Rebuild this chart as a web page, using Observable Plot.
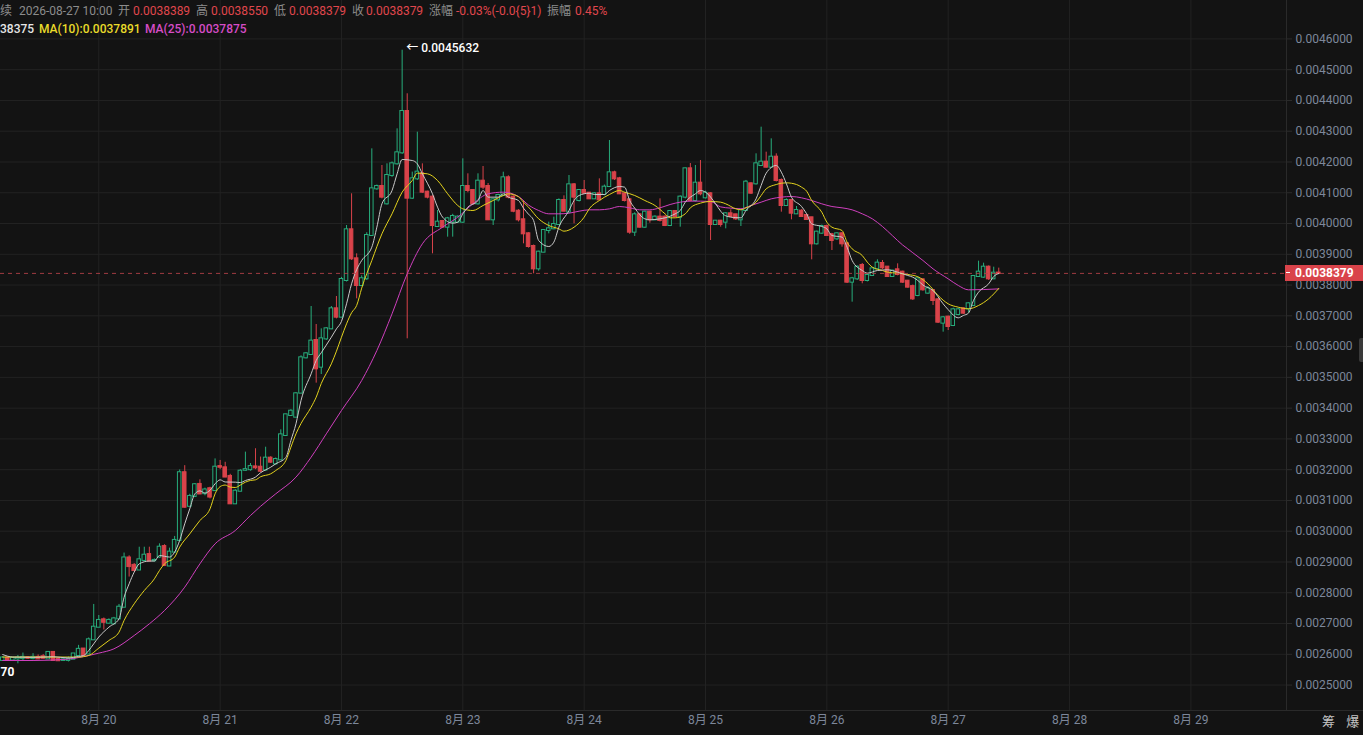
<!DOCTYPE html>
<html><head><meta charset="utf-8">
<script src="https://cdn.jsdelivr.net/npm/d3@7"></script>
<script src="https://cdn.jsdelivr.net/npm/@observablehq/plot@0.6"></script>
<style>
html,body{margin:0;padding:0;background:#131313;overflow:hidden;}
#wrap{position:relative;width:1363px;height:735px;font-family:Roboto,"Noto Sans CJK SC",sans-serif;}
.t{position:absolute;white-space:nowrap;font-size:12px;line-height:14px;}
.g{color:#8c8c8c}.r{color:#e0474d}
</style></head><body><div id="wrap"></div>
<script>
// Hourly candles, first one at 2026-08-19 05:00, last at 2026-08-27 10:00
const firstCandle = "2026-08-19T05:00:00Z";
const open = [
0.0025800,0.0025880,0.0025810,0.0025850,0.0025860,0.0025890,0.0025860,0.0025900,0.0025920,0.0025850,
0.0026060,0.0025830,0.0025800,0.0025800,0.0025840,0.0025960,0.0026170,0.0026010,0.0026470,0.0026880,
0.0027120,0.0027010,0.0026990,0.0027150,0.0027530,0.0029130,0.0028890,0.0028740,0.0029050,0.0029240,
0.0029040,0.0029160,0.0029500,0.0028870,0.0029320,0.0029700,0.0031900,0.0030810,0.0031130,0.0031520,
0.0031220,0.0031380,0.0031320,0.0032100,0.0032060,0.0031780,0.0030890,0.0031300,0.0031980,0.0032000,
0.0032090,0.0032080,0.0031990,0.0032374,0.0032190,0.0032320,0.0033110,0.0033760,0.0033706,0.0034487,
0.0035635,0.0035743,0.0036198,0.0035331,0.0036250,0.0036577,0.0037227,0.0036957,0.0038148,0.0039795,
0.0038852,0.0037986,0.0038205,0.0039611,0.0041127,0.0041203,0.0040640,0.0041561,0.0041940,0.0042297,
0.0043640,0.0040824,0.0041452,0.0041615,0.0041019,0.0040857,0.0039903,0.0040065,0.0039882,0.0040044,
0.0040044,0.0040044,0.0041203,0.0041073,0.0040640,0.0041376,0.0041203,0.0040120,0.0040770,0.0040910,
0.0041485,0.0040857,0.0040400,0.0040120,0.0039665,0.0039253,0.0038527,0.0039069,0.0039773,0.0039828,
0.0039968,0.0040748,0.0040370,0.0041257,0.0040748,0.0041073,0.0040986,0.0040802,0.0040965,0.0040943,
0.0041202,0.0041647,0.0041452,0.0040965,0.0040770,0.0039719,0.0040282,0.0039881,0.0040369,0.0040120,
0.0040207,0.0040207,0.0039935,0.0040391,0.0040206,0.0040857,0.0041777,0.0040748,0.0041311,0.0040835,
0.0040965,0.0039968,0.0040076,0.0040044,0.0040315,0.0040282,0.0040120,0.0040423,0.0041290,0.0041290,
0.0041885,0.0041994,0.0041831,0.0042156,0.0041398,0.0040586,0.0040748,0.0040315,0.0040401,0.0040261,
0.0040185,0.0039340,0.0039686,0.0039903,0.0039633,0.0039502,0.0039665,0.0039340,0.0038094,0.0038202,
0.0038636,0.0038148,0.0038311,0.0038527,0.0038700,0.0038582,0.0038279,0.0038495,0.0038419,0.0038126,
0.0037950,0.0037661,0.0038170,0.0037737,0.0037823,0.0037520,0.0036762,0.0036957,0.0036686,0.0037043,
0.0037227,0.0037227,0.0037336,0.0038278,0.0038257,0.0038581,0.0038202,0.0038389];
const high = [
0.0025920,0.0025900,0.0025900,0.0025960,0.0026040,0.0025920,0.0026020,0.0025980,0.0025990,0.0026070,
0.0026070,0.0025850,0.0025850,0.0025910,0.0026020,0.0026290,0.0026180,0.0026530,0.0027620,0.0027260,
0.0027180,0.0027150,0.0027200,0.0027620,0.0029290,0.0029200,0.0028950,0.0029480,0.0029480,0.0029480,
0.0029100,0.0029590,0.0029560,0.0029450,0.0029830,0.0031990,0.0032130,0.0031200,0.0031550,0.0031670,
0.0031400,0.0031430,0.0032350,0.0032300,0.0032240,0.0031850,0.0031350,0.0032000,0.0032570,0.0032200,
0.0032680,0.0032410,0.0032730,0.0032420,0.0032380,0.0033295,0.0033800,0.0033950,0.0034500,0.0035700,
0.0035800,0.0037303,0.0036718,0.0036577,0.0036620,0.0037303,0.0037628,0.0038250,0.0039936,0.0040965,
0.0039015,0.0038300,0.0039700,0.0042427,0.0041250,0.0041886,0.0041940,0.0042000,0.0043077,0.0045632,
0.0044216,0.0041670,0.0042969,0.0041940,0.0041050,0.0040900,0.0040423,0.0040100,0.0040200,0.0040300,
0.0040250,0.0042102,0.0041615,0.0041100,0.0041615,0.0041853,0.0041300,0.0040800,0.0040950,0.0041668,
0.0041550,0.0040900,0.0040450,0.0040748,0.0039700,0.0039300,0.0039100,0.0039800,0.0040044,0.0040207,
0.0040800,0.0040900,0.0041561,0.0041300,0.0041100,0.0041398,0.0041000,0.0041000,0.0041452,0.0041250,
0.0042698,0.0041700,0.0041500,0.0041000,0.0040800,0.0040350,0.0040320,0.0040400,0.0040400,0.0040250,
0.0040802,0.0040250,0.0040420,0.0040420,0.0040900,0.0041800,0.0041950,0.0041886,0.0042048,0.0041050,
0.0041000,0.0040100,0.0040100,0.0040350,0.0040445,0.0040300,0.0040450,0.0041400,0.0041320,0.0042265,
0.0043131,0.0042319,0.0042752,0.0042265,0.0041450,0.0040800,0.0040780,0.0040553,0.0040450,0.0040300,
0.0040200,0.0039750,0.0039950,0.0039950,0.0039680,0.0039700,0.0039700,0.0039380,0.0038250,0.0038620,
0.0038700,0.0038350,0.0038560,0.0038820,0.0038798,0.0038600,0.0038480,0.0038690,0.0038450,0.0038150,
0.0038000,0.0038250,0.0038200,0.0037950,0.0037850,0.0037550,0.0036980,0.0036990,0.0037250,0.0037250,
0.0037260,0.0037420,0.0038300,0.0038776,0.0038711,0.0038620,0.0038581,0.0038550];
const low = [
0.0025780,0.0025790,0.0025800,0.0025690,0.0025800,0.0025840,0.0025820,0.0025830,0.0025850,0.0025840,
0.0025790,0.0025780,0.0025790,0.0025750,0.0025830,0.0025950,0.0025950,0.0025990,0.0026460,0.0026870,
0.0026790,0.0026990,0.0026970,0.0027140,0.0027520,0.0028510,0.0028700,0.0028720,0.0029000,0.0029000,
0.0029000,0.0029120,0.0028850,0.0028850,0.0029300,0.0029680,0.0030750,0.0030780,0.0031100,0.0031200,
0.0031150,0.0031050,0.0031300,0.0032000,0.0031740,0.0030880,0.0030870,0.0031280,0.0031950,0.0031950,
0.0032000,0.0031900,0.0031950,0.0032200,0.0032150,0.0032300,0.0033090,0.0033740,0.0033690,0.0034470,
0.0035600,0.0035720,0.0034812,0.0035093,0.0036200,0.0036550,0.0036900,0.0036940,0.0038100,0.0038800,
0.0037552,0.0037950,0.0038150,0.0039580,0.0041080,0.0040800,0.0040600,0.0041500,0.0041900,0.0042250,
0.0036253,0.0040780,0.0041400,0.0040980,0.0040800,0.0039015,0.0039880,0.0039850,0.0039557,0.0039557,
0.0040000,0.0040000,0.0041000,0.0040600,0.0040600,0.0041100,0.0040098,0.0039936,0.0040700,0.0040880,
0.0040800,0.0040350,0.0040050,0.0039340,0.0039200,0.0038365,0.0038450,0.0039050,0.0039665,0.0039800,
0.0039950,0.0040380,0.0040350,0.0039990,0.0040700,0.0040950,0.0040780,0.0040780,0.0040750,0.0040900,
0.0041180,0.0041400,0.0040940,0.0040700,0.0039650,0.0039578,0.0039850,0.0039850,0.0040011,0.0040100,
0.0040050,0.0039900,0.0039900,0.0040200,0.0039881,0.0040800,0.0040700,0.0040700,0.0040900,0.0040800,
0.0039448,0.0039950,0.0039881,0.0039827,0.0040200,0.0040100,0.0039903,0.0040400,0.0040950,0.0041250,
0.0041850,0.0041800,0.0041800,0.0041350,0.0040369,0.0040550,0.0040120,0.0040300,0.0040200,0.0040100,
0.0038820,0.0039300,0.0039650,0.0039580,0.0039123,0.0039450,0.0039231,0.0038050,0.0037444,0.0038150,
0.0038040,0.0038100,0.0038280,0.0038500,0.0038500,0.0038250,0.0038250,0.0038300,0.0038050,0.0037900,
0.0037500,0.0037620,0.0037800,0.0037700,0.0037336,0.0036750,0.0036469,0.0036523,0.0036650,0.0037000,
0.0037050,0.0037086,0.0037300,0.0038250,0.0038220,0.0038150,0.0038180,0.0038379];
const close = [
0.0025880,0.0025810,0.0025870,0.0025880,0.0025900,0.0025870,0.0025900,0.0025850,0.0025870,0.0026060,
0.0025800,0.0025790,0.0025820,0.0025830,0.0026010,0.0026160,0.0025960,0.0026470,0.0026880,0.0027100,
0.0027040,0.0027100,0.0027150,0.0027530,0.0029130,0.0028850,0.0028720,0.0029070,0.0029220,0.0029030,
0.0029050,0.0029480,0.0028890,0.0029320,0.0029700,0.0031900,0.0030780,0.0031130,0.0031510,0.0031210,
0.0031340,0.0031110,0.0032080,0.0032080,0.0031760,0.0030890,0.0031300,0.0031950,0.0032000,0.0032100,
0.0032060,0.0031950,0.0032374,0.0032244,0.0032330,0.0033132,0.0033782,0.0033900,0.0034465,0.0035635,
0.0035765,0.0036177,0.0035277,0.0036252,0.0036577,0.0037227,0.0036957,0.0038181,0.0039795,0.0038852,
0.0037986,0.0038205,0.0039611,0.0041127,0.0041203,0.0040857,0.0041561,0.0041940,0.0042297,0.0043640,
0.0040824,0.0041452,0.0041669,0.0041019,0.0040857,0.0039936,0.0040044,0.0039882,0.0040152,0.0040228,
0.0040207,0.0041203,0.0041073,0.0040640,0.0041376,0.0041181,0.0040120,0.0040770,0.0040910,0.0041485,
0.0040857,0.0040400,0.0040120,0.0039665,0.0039253,0.0038527,0.0039069,0.0039773,0.0039828,0.0039968,
0.0040748,0.0040401,0.0041257,0.0040857,0.0041073,0.0040986,0.0040802,0.0040965,0.0040770,0.0041181,
0.0041647,0.0041452,0.0040965,0.0040748,0.0039719,0.0040282,0.0039881,0.0040369,0.0040120,0.0040207,
0.0040098,0.0039935,0.0040391,0.0040228,0.0040857,0.0041777,0.0040748,0.0041311,0.0040965,0.0040986,
0.0039968,0.0040076,0.0039968,0.0040315,0.0040228,0.0040152,0.0040423,0.0041344,0.0040986,0.0041940,
0.0041994,0.0041831,0.0042156,0.0041398,0.0040586,0.0040748,0.0040336,0.0040423,0.0040228,0.0040131,
0.0039340,0.0039719,0.0039903,0.0039611,0.0039448,0.0039665,0.0039340,0.0038094,0.0038202,0.0038582,
0.0038148,0.0038311,0.0038527,0.0038712,0.0038560,0.0038279,0.0038452,0.0038343,0.0038094,0.0037932,
0.0037550,0.0038202,0.0037845,0.0037877,0.0037498,0.0036794,0.0036935,0.0036653,0.0037195,0.0037195,
0.0037086,0.0037390,0.0038278,0.0038419,0.0038581,0.0038202,0.0038386,0.0038379];

// Moving averages: [hours after 2026-08-20 00:00, value]
const ma5 = [[-19,0.0025990],[-17,0.0025910],[-13,0.0025900],[-9,0.0025920],[-6,0.0025880],[-4,0.0025930],[-3,0.0025960],[-2,0.0026120],[-1,0.0026340],[0,0.0026560],[2,0.0026880],[4,0.0027150],[5,0.0027850],[6,0.0028290],[7,0.0028670],[8,0.0028940],[10,0.0029030],[11,0.0029030],[12,0.0029210],[14,0.0029160],[15,0.0029320],[16,0.0029700],[17,0.0030240],[18,0.0030730],[19,0.0031215],[20,0.0031310],[21,0.0031240],[22,0.0031330],[23,0.0031540],[24,0.0031670],[25,0.0031600],[27,0.0031594],[28,0.0031580],[29,0.0031648],[31,0.0031760],[32,0.0031900],[34,0.0032080],[35,0.0032190],[37,0.0032400],[38,0.0032950],[39,0.0033490],[40,0.0034250],[42,0.0035115],[43,0.0035548],[44,0.0035800],[46,0.0036306],[47,0.0036577],[48,0.0036820],[49,0.0037390],[50,0.0038040],[51,0.0038500],[52,0.0038798],[54,0.0039232],[55,0.0039882],[56,0.0040640],[58,0.0041073],[59,0.0041615],[60,0.0042081],[62,0.0042048],[63,0.0041940],[64,0.0041615],[66,0.0040965],[67,0.0040531],[68,0.0040207],[70,0.0040011],[71,0.0040044],[72,0.0040315],[73,0.0040531],[75,0.0040748],[76,0.0041073],[77,0.0040857],[79,0.0040857],[80,0.0040965],[81,0.0040857],[83,0.0040750],[84,0.0040500],[85,0.0040300],[86,0.0040098],[87,0.0039448],[89,0.0039253],[90,0.0039394],[91,0.0039881],[93,0.0040423],[94,0.0040748],[95,0.0040911],[97,0.0040986],[98,0.0040943],[100,0.0040943],[101,0.0041073],[103,0.0041203],[104,0.0041181],[105,0.0040748],[106,0.0040500],[108,0.0040152],[109,0.0040120],[111,0.0040152],[112,0.0040185],[114,0.0040315],[115,0.0040423],[116,0.0040694],[118,0.0040965],[119,0.0041073],[120,0.0041019],[122,0.0040640],[123,0.0040400],[124,0.0040250],[126,0.0040190],[127,0.0040185],[128,0.0040423],[130,0.0040802],[131,0.0041236],[132,0.0041636],[134,0.0041886],[135,0.0041669],[136,0.0041290],[137,0.0040857],[139,0.0040553],[140,0.0040315],[141,0.0039990],[143,0.0039903],[144,0.0039827],[145,0.0039611],[147,0.0039557],[148,0.0039232],[149,0.0038798],[151,0.0038473],[152,0.0038386],[154,0.0038473],[156,0.0038495],[158,0.0038419],[160,0.0038311],[161,0.0038256],[162,0.0038148],[163,0.0038000],[165,0.0037823],[167,0.0037390],[168,0.0037200],[170,0.0036935],[171,0.0037011],[172,0.0037086],[173,0.0037498],[174,0.0037769],[176,0.0038040],[177,0.0038278],[178,0.0038375]];
const ma10 = [[-19,0.0025910],[-4,0.0025910],[-2,0.0025960],[0,0.0026200],[2,0.0026448],[4,0.0026719],[5,0.0027098],[7,0.0027640],[9,0.0028073],[11,0.0028452],[12,0.0028723],[13,0.0028940],[15,0.0029157],[16,0.0029482],[18,0.0029915],[20,0.0030348],[22,0.0030727],[23,0.0031215],[24,0.0031450],[25,0.0031500],[26,0.0031432],[27,0.0031420],[28,0.0031500],[29,0.0031594],[30,0.0031650],[31,0.0031670],[32,0.0031770],[34,0.0031865],[35,0.0031973],[37,0.0032298],[38,0.0032732],[39,0.0033165],[40,0.0033500],[42,0.0034032],[43,0.0034357],[44,0.0034800],[46,0.0035440],[47,0.0035850],[48,0.0036306],[49,0.0036740],[50,0.0037100],[51,0.0037336],[52,0.0037900],[54,0.0038798],[56,0.0039665],[58,0.0040315],[60,0.0041019],[62,0.0041398],[63,0.0041636],[65,0.0041615],[67,0.0041398],[69,0.0040965],[71,0.0040586],[72,0.0040477],[74,0.0040423],[76,0.0040586],[78,0.0040748],[80,0.0040911],[81,0.0040965],[83,0.0040870],[84,0.0040694],[85,0.0040531],[87,0.0040152],[89,0.0039935],[91,0.0039827],[92,0.0039751],[94,0.0039881],[96,0.0040206],[97,0.0040477],[99,0.0040748],[101,0.0040943],[103,0.0041073],[104,0.0041019],[106,0.0040911],[108,0.0040748],[110,0.0040586],[112,0.0040315],[113,0.0040185],[114,0.0040185],[116,0.0040315],[117,0.0040510],[119,0.0040662],[121,0.0040716],[123,0.0040694],[124,0.0040640],[126,0.0040477],[127,0.0040445],[128,0.0040510],[130,0.0040694],[131,0.0040911],[132,0.0041127],[134,0.0041268],[135,0.0041311],[136,0.0041322],[138,0.0041268],[139,0.0041181],[140,0.0041051],[141,0.0040748],[143,0.0040369],[144,0.0040044],[145,0.0039881],[147,0.0039773],[148,0.0039394],[149,0.0039177],[151,0.0038961],[152,0.0038744],[153,0.0038582],[155,0.0038473],[156,0.0038419],[158,0.0038386],[160,0.0038343],[162,0.0038270],[164,0.0038040],[166,0.0037661],[168,0.0037390],[170,0.0037281],[172,0.0037227],[174,0.0037336],[176,0.0037552],[178,0.0037891]];
const ma25 = [[-19,0.0025798],[-13,0.0025798],[-6,0.0025842],[-3,0.0025928],[0,0.0026037],[3,0.0026177],[7,0.0026611],[10,0.0026990],[13,0.0027423],[17,0.0028182],[20,0.0028940],[23,0.0029590],[27,0.0030023],[30,0.0030511],[32,0.0030810],[35,0.0031215],[39,0.0031757],[42,0.0032407],[45,0.0033165],[48,0.0033923],[52,0.0034898],[55,0.0035873],[58,0.0037065],[61,0.0038365],[64,0.0039340],[68,0.0039882],[71,0.0040207],[74,0.0040640],[77,0.0040965],[80,0.0041019],[83,0.0040880],[85,0.0040600],[87,0.0040423],[89,0.0040315],[91,0.0040315],[93,0.0040336],[95,0.0040401],[97,0.0040445],[99,0.0040445],[101,0.0040477],[103,0.0040553],[105,0.0040510],[107,0.0040445],[109,0.0040445],[111,0.0040510],[113,0.0040618],[115,0.0040694],[117,0.0040727],[119,0.0040727],[121,0.0040716],[123,0.0040540],[125,0.0040500],[127,0.0040480],[129,0.0040586],[131,0.0040694],[133,0.0040802],[135,0.0040857],[137,0.0040878],[139,0.0040835],[141,0.0040748],[143,0.0040640],[145,0.0040553],[147,0.0040510],[149,0.0040445],[151,0.0040315],[153,0.0040152],[155,0.0039903],[157,0.0039600],[159,0.0039300],[160,0.0039177],[161,0.0039050],[163,0.0038800],[165,0.0038527],[168,0.0038202],[170,0.0037986],[172,0.0037845],[178,0.0037875]];

const yTicks = [0.0025,0.0026,0.0027,0.0028,0.0029,0.0030,0.0031,0.0032,0.0033,0.0034,0.0035,0.0036,0.0037,0.0038,0.0039,0.0040,0.0041,0.0042,0.0043,0.0044,0.0045,0.0046];
const dayTicks = ["2026-08-20","2026-08-21","2026-08-22","2026-08-23","2026-08-24","2026-08-25","2026-08-26","2026-08-27","2026-08-28","2026-08-29"];
const lastPrice = 0.0038379;
const highMark = {h: 60, price: 0.0045632, label: "← 0.0045632"};
const lowMark = {price: 0.0025770, label: "70"};
const header1 = [
  ["续",0,"g"],["2026-08-27 10:00",19,"g"],["开",118,"g"],["0.0038389",133,"r"],["高",196,"g"],["0.0038550",211,"r"],
  ["低",274,"g"],["0.0038379",289,"r"],["收",352,"g"],["0.0038379",366,"r"],["涨幅",429,"g"],["-0.03%(-0.0{5}1)",456,"r"],
  ["振幅",547,"g"],["0.45%",575,"r"]];
const header2 = [["38375",0,"#e6e6e6"],["MA(10):0.0037891",39,"#eadb2a"],["MA(25):0.0037875",145,"#d64cc6"]];

const HOUR = 3600e3;
const T0 = Date.parse("2026-08-20T00:00:00Z");
const t = h => new Date(T0 + h * HOUR);
const t0 = Date.parse(firstCandle);
const candles = open.map((o, i) => ({date: new Date(t0 + i * HOUR), open: o, high: high[i], low: low[i], close: close[i]}));
const up = candles.filter(d => d.close >= d.open);
const down = candles.filter(d => d.close < d.open);
const toPts = a => a.map(([h, v]) => ({date: t(h), v}));

const BG = "#131313", GREEN = "#27ad7c", RED = "#d9434a", GRID = "#222222", AXIS = "#7d879a";
const halfW = 21 * 60e3;

const wrap = document.getElementById("wrap");
const chart = Plot.plot({
  width: 1363, height: 735,
  marginLeft: 0, marginRight: 77, marginTop: 0, marginBottom: 25,
  style: {background: "transparent", color: AXIS, fontFamily: "Roboto, 'Noto Sans CJK SC', sans-serif", fontSize: "12px"},
  x: {type: "utc", domain: [t(-19.44), t(234.91)]},
  y: {domain: [0.0024173, 0.0047248]},
  marks: [
    Plot.ruleY(yTicks, {stroke: GRID}),
    Plot.ruleX(dayTicks.map(d => new Date(d + "T00:00:00Z")), {stroke: GRID}),
    Plot.ruleX(up, {x: "date", y1: "low", y2: "high", stroke: GREEN}),
    Plot.ruleX(down, {x: "date", y1: "low", y2: "high", stroke: RED}),
    Plot.rect(up, {x1: d => new Date(+d.date - halfW), x2: d => new Date(+d.date + halfW), y1: "open", y2: "close", fill: BG, stroke: GREEN, insetTop: -0.5, insetBottom: -0.5}),
    Plot.rect(down, {x1: d => new Date(+d.date - halfW), x2: d => new Date(+d.date + halfW), y1: "close", y2: "open", fill: RED, stroke: RED, insetTop: -0.5, insetBottom: -0.5}),
    Plot.line(toPts(ma25), {x: "date", y: "v", stroke: "#cf3fbe", strokeWidth: 1, curve: "monotone-x"}),
    Plot.line(toPts(ma10), {x: "date", y: "v", stroke: "#e3d21d", strokeWidth: 1, curve: "monotone-x"}),
    Plot.line(toPts(ma5), {x: "date", y: "v", stroke: "#c9c9c9", strokeWidth: 1, curve: "monotone-x"}),
    Plot.ruleY([lastPrice], {stroke: "#b8434a", strokeDasharray: "4,4", strokeOpacity: 0.85}),
    Plot.axisY(yTicks, {anchor: "right", tickSize: 5, tickPadding: 4, tickFormat: d => d.toFixed(7), stroke: "#2c2c2c", fill: AXIS, fontSize: 12}),
    Plot.axisX(dayTicks.map(d => new Date(d + "T00:00:00Z")), {anchor: "bottom", tickSize: 0, tickPadding: 5, fill: AXIS, fontSize: 12,
      tickFormat: d => `${d.getUTCMonth() + 1}月 ${d.getUTCDate()}`}),
    Plot.frame({anchor: "right", stroke: "#2a2a2a"}),
    Plot.text([highMark], {x: d => t(d.h), y: "price", text: "label", textAnchor: "start", dx: 4, dy: -2, fill: "#ffffff", fontSize: 12, fontWeight: 500}),
    Plot.text([lowMark], {frameAnchor: "left", y: "price", text: "label", textAnchor: "start", dy: 11, fill: "#ffffff", fontSize: 12, fontWeight: "bold"})
  ]
});
chart.style.position = "absolute"; chart.style.left = "0"; chart.style.top = "0";
wrap.appendChild(chart);

// bottom border line across whole width
const bl = document.createElement("div");
bl.style.cssText = "position:absolute;left:0;top:710px;width:1363px;height:1px;background:#2a2a2a";
wrap.appendChild(bl);

// header
for (const [txt, x, c] of header1) {
  const s = document.createElement("div"); s.className = "t " + c; s.textContent = txt;
  s.style.left = x + "px"; s.style.top = "4px"; wrap.appendChild(s);
}
for (const [txt, x, c] of header2) {
  const s = document.createElement("div"); s.className = "t"; s.textContent = txt;
  s.style.left = x + "px"; s.style.top = "22px"; s.style.color = c; s.style.fontWeight = "500"; wrap.appendChild(s);
}
// price tag
const yy = chart.scale("y").apply(lastPrice);
const tag = document.createElement("div");
tag.style.cssText = `position:absolute;left:1285px;top:${yy - 8}px;width:78px;height:16px;background:${RED};color:#fff;font-weight:bold;font-size:12px;line-height:16px;padding-left:10px;box-sizing:border-box;`;
tag.textContent = lastPrice.toFixed(7);
const tk = document.createElement("div");
tk.style.cssText = "position:absolute;left:1px;top:7.5px;width:4px;height:1px;background:#fff";
tag.appendChild(tk);
wrap.appendChild(tag);
// right edge tab
const tab = document.createElement("div");
tab.style.cssText = "position:absolute;left:1359px;top:338px;width:6px;height:24px;background:#3a3a3a;border-radius:2px";
wrap.appendChild(tab);
// bottom-right buttons
const br = document.createElement("div");
br.className = "t"; br.textContent = "筹 爆";
br.style.cssText += "left:1322px;top:714px;color:#c4c4c4;font-size:13px;letter-spacing:4px;line-height:16px";
wrap.appendChild(br);
</script></body></html>
